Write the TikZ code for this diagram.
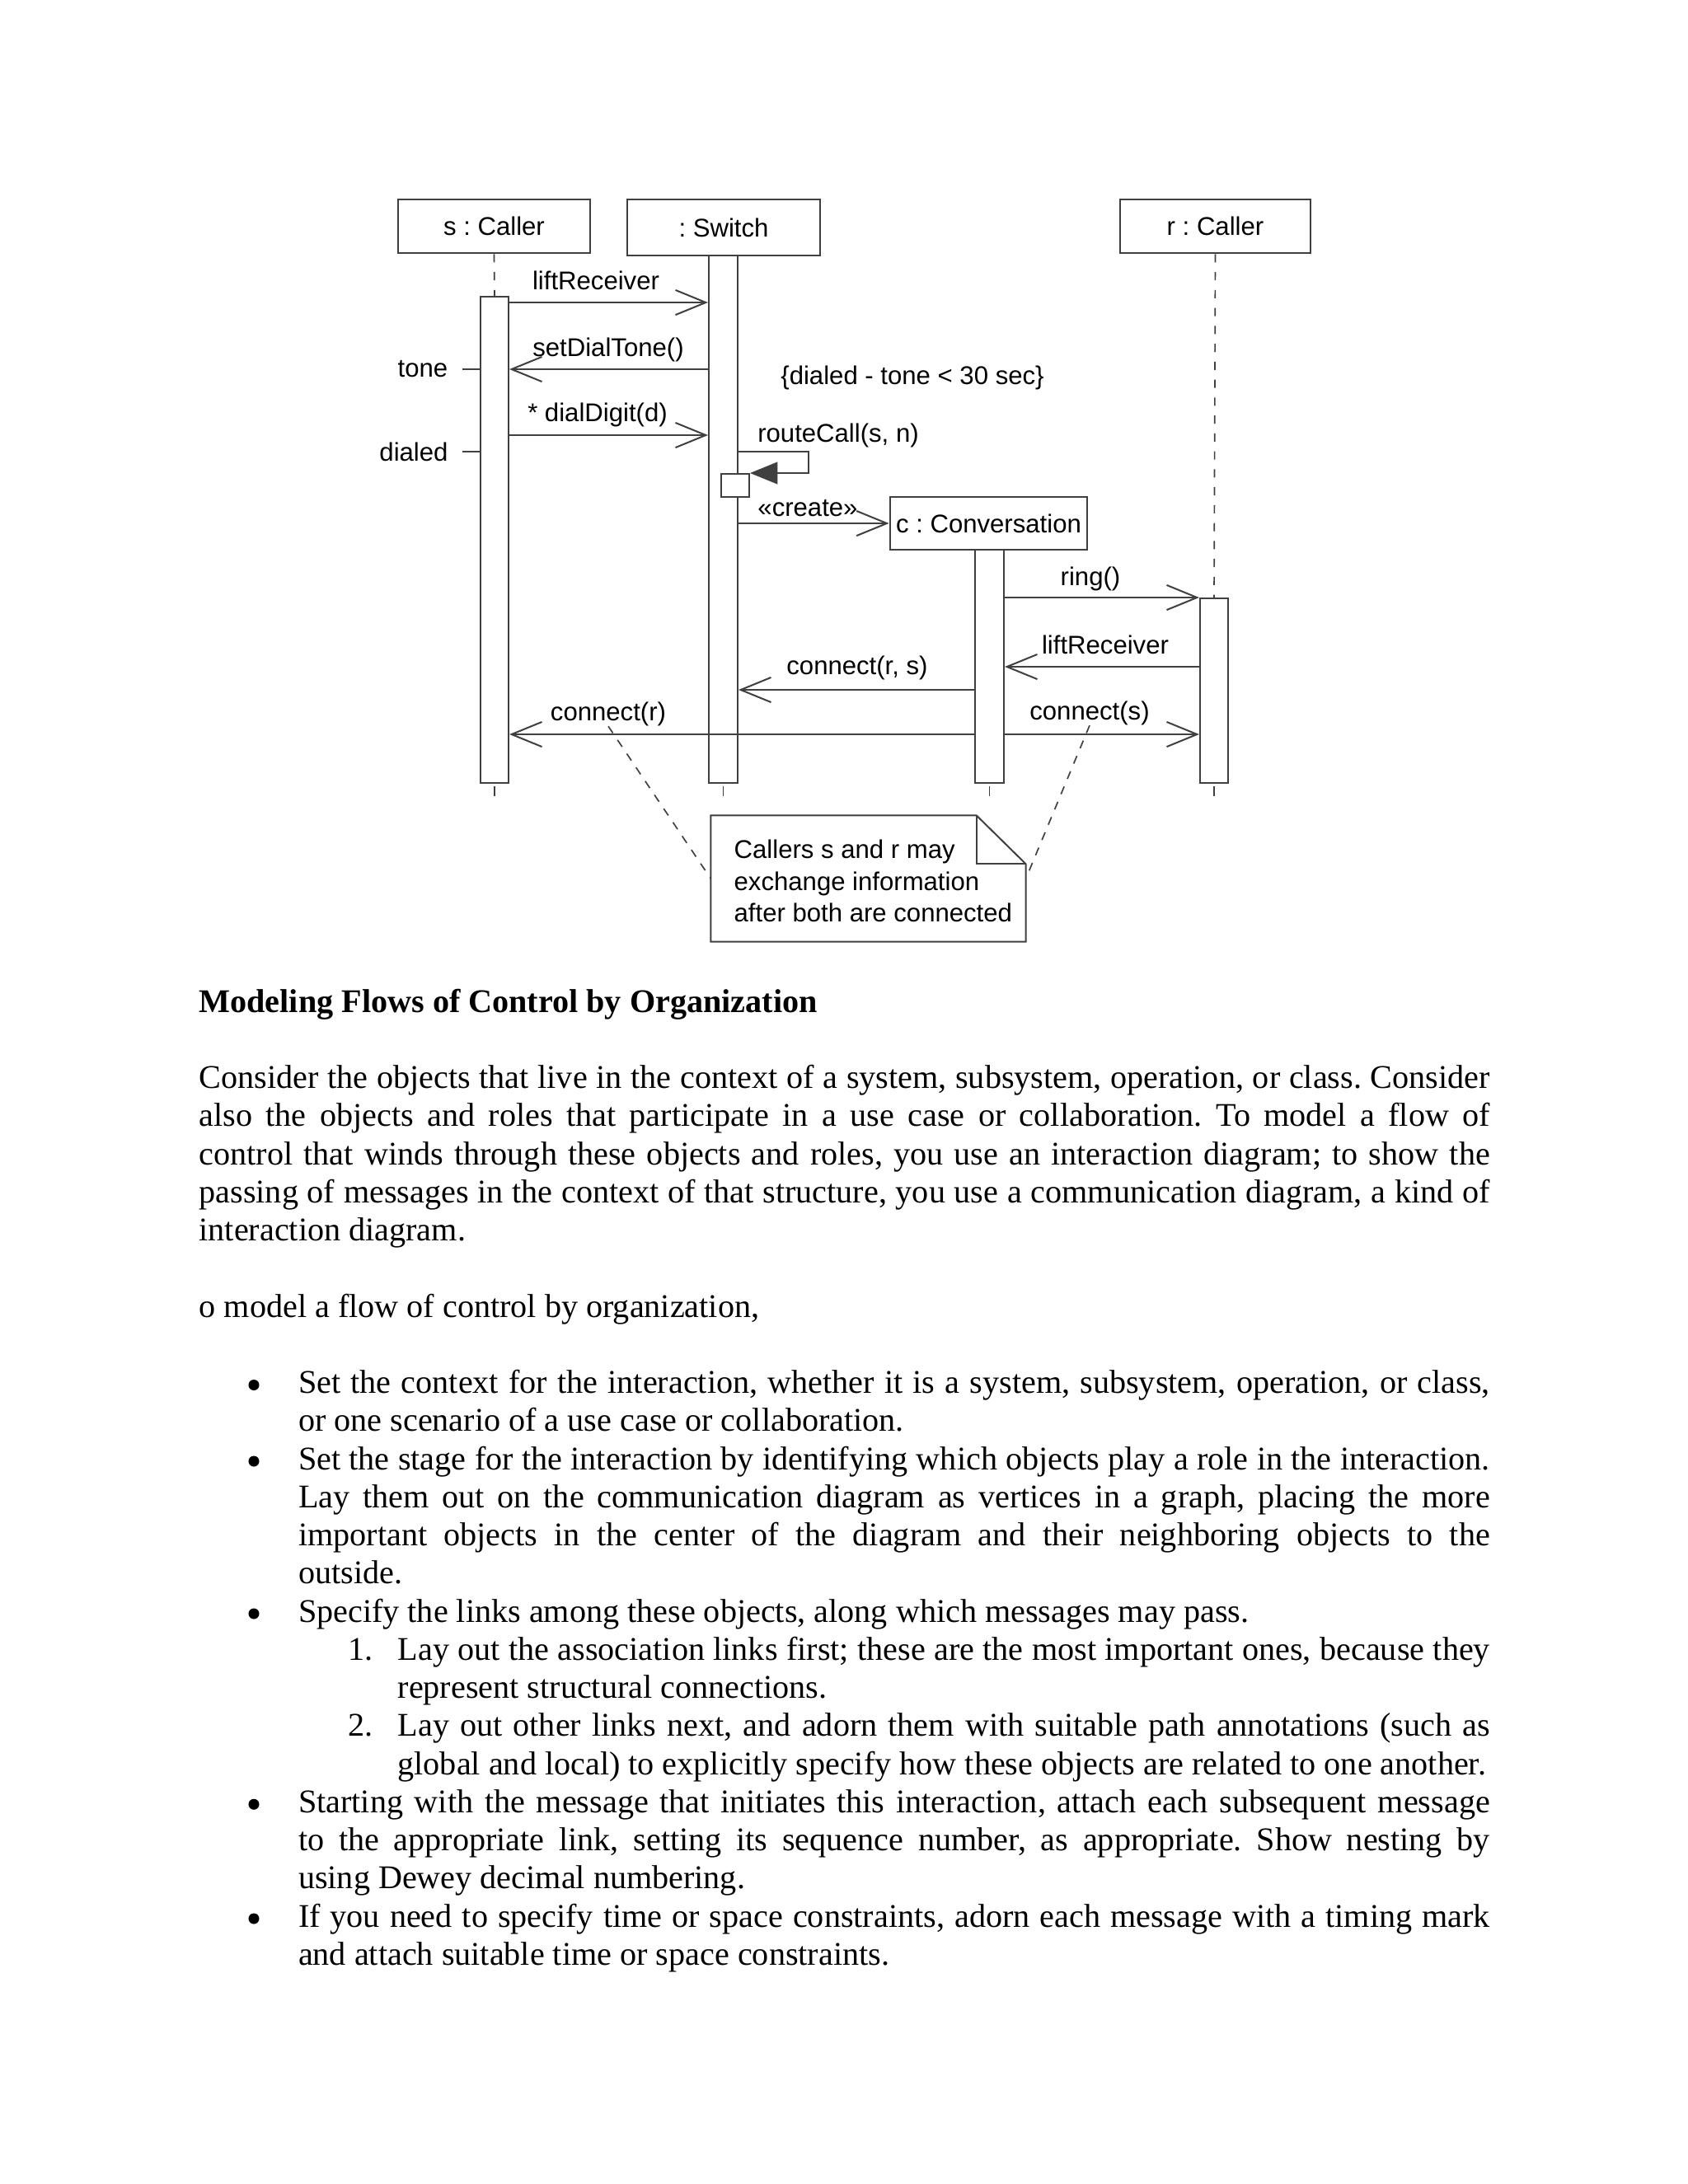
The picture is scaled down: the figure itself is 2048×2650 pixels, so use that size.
\documentclass[tikz,border=0pt]{standalone}
\usepackage{fontspec}
\setmainfont{Liberation Serif}
\newfontfamily\diagfont{Liberation Sans}
\usetikzlibrary{arrows.meta,fit,calc}
\frenchspacing
\newcommand\jline[4]{\node[body] (#1) at (#2) {\makebox[#3][s]{#4}};}
\newcommand\lline[3]{\node[body] (#1) at (#2) {#3};}
\newcommand\bul[2]{\node[circle, fill=black, inner sep=0pt, minimum size=3.9pt] (#1) at (#2) {};}
\begin{document}
\begin{tikzpicture}[x=0.29883pt,y=-0.29883pt,
  dline/.style={draw=black!75, line width=0.6pt},
  objbox/.style={draw=black!75, line width=0.8pt, fill=white, inner sep=0pt},
  actbox/.style={draw=black!75, line width=0.6pt, fill=white, inner sep=0pt},
  msg/.style={draw=black!75, line width=0.6pt, -{Straight Barb[length=11pt,width=9pt]}},
  lbl/.style={font=\diagfont\fontsize{9.3}{11.1}\selectfont, inner sep=0pt},
  lifeline/.style={draw=black!75, line width=0.5pt, dash pattern=on 3pt off 3.5pt},
  notelink/.style={draw=black!75, line width=0.5pt, dash pattern=on 3pt off 3pt},
  body/.style={anchor=base west, inner sep=0pt, font=\fontsize{12}{13.8}\selectfont},
]
\fill[white] (0,0) rectangle (2048,2650);
\useasboundingbox (0,0) rectangle (2048,2650);

% object boxes
\node[objbox, fit={(483,242)(716,307)}] (s) {};
\node[lbl] (st) at (s.center) {s : Caller};
\node[objbox, fit={(761,242)(995,310)}] (sw) {};
\node[lbl] (swt) at (sw.center) {: Switch};
\node[objbox, fit={(1359,242)(1590,307)}] (r) {};
\node[lbl] (rt) at (r.center) {r : Caller};

% lifelines
\draw[lifeline] (s.south) -- (600,360);
\draw[lifeline] (r.south) -- (1473,726);

% activations
\node[actbox, fit={(583,360)(617,950)}] (sa) {};
\node[actbox, fit={(860,310)(895,950)}] (swa) {};
\node[objbox, fit={(1080,603)(1319,667)}] (c) {};
\node[lbl] (ct) at (c.center) {c : Conversation};
\node[actbox, fit={(1183,667)(1218,950)}] (ca) {};
\node[actbox, fit={(1456,726)(1490,950)}] (ra) {};
\node[actbox, fit={(875,575)(909,603)}] (nest) {};

% ticks below activations
\foreach \a in {sa,swa,ca,ra}{
  \draw[dline, line width=0.5pt] (\a.south) ++(0,3) -- ++(0,12);
}

% messages
\draw[msg] (sa.east |- 0,367) -- (swa.west |- 0,367);
\draw[msg] (swa.west |- 0,448) -- (sa.east |- 0,448);
\draw[msg] (sa.east |- 0,528) -- (swa.west |- 0,528);
\draw[dline, -{Triangle[length=10pt,width=8pt]}] (swa.east |- 0,548) -- ++(85,0) |- (nest.north east);
\draw[msg] (swa.east |- c.west) -- (c.west);
\draw[msg] (ca.east |- ra.north) -- (ra.north west);
\draw[msg] (ra.west |- 0,809) -- (ca.east |- 0,809);
\draw[msg] (ca.west |- 0,837) -- (swa.east |- 0,837);
\draw[msg] (ca.west |- 0,891) -- (sa.east |- 0,891);
\draw[msg] (ca.east |- 0,891) -- (ra.west |- 0,891);

% labels
\node[lbl] (l1) at (723,340) {liftReceiver};
\node[lbl] (l2) at (738,424) {setDialTone()};
\node[lbl] (l3) at (725,503) {* dialDigit(d)};
\node[lbl] (l4) at (1017,528) {routeCall(s, n)};
\node[lbl] (l5) at (1107,458) {\{dialed - tone < 30 sec\}};
\node[lbl] (l6) at (980,617) {«create»};
\node[lbl] (l7) at (1323,702) {ring()};
\node[lbl] (l8) at (1341,782) {liftReceiver};
\node[lbl] (l9) at (1040,810) {connect(r, s)};
\node[lbl] (cr) at (738,866) {connect(r)};
\node[lbl] (cs) at (1322,865) {connect(s)};

\node[lbl] (tone) at (513,448) {tone};
\draw[dline] ([xshift=5pt]tone.east) -- (sa.west |- tone.east);
\node[lbl] (dialed) at (502,548) {dialed};
\draw[dline] ([xshift=5pt]dialed.east) -- (sa.west |- dialed.east);

% note
\node[inner sep=0pt, fit={(863,990)(1244,1142)}] (note) {};
\draw[dline, fill=white] (note.north west) -- ($(note.north east)+(-60,0)$) -- ($(note.north east)+(0,59)$) -- (note.south east) -- (note.south west) -- cycle;
\draw[dline] ($(note.north east)+(-60,0)$) -- ($(note.north east)+(-60,59)$) -- ($(note.north east)+(0,59)$);
\node[lbl, anchor=west, align=left, font=\diagfont\fontsize{9.3}{11.4}\selectfont] (nt) at (890,1069) {Callers s and r may\\exchange information\\after both are connected};
\draw[notelink] (cr.south) -- (note.west);
\draw[notelink] (cs.south) -- (note.east);

% body text
\node[body, font=\fontsize{12}{13.8}\selectfont\bfseries] (head) at (241,1228) {Modeling Flows of Control by Organization};
\jline{p1}{241,{1228+46.25*2}}{468pt}{Consider the objects that live in the context of a system, subsystem, operation, or class. Consider}
\jline{p2}{241,{1228+46.25*3}}{468pt}{also the objects and roles that participate in a use case or collaboration. To model a flow of}
\jline{p3}{241,{1228+46.25*4}}{468pt}{control that winds through these objects and roles, you use an interaction diagram; to show the}
\jline{p4}{241,{1228+46.25*5}}{468pt}{passing of messages in the context of that structure, you use a communication diagram, a kind of}
\lline{p5}{241,{1228+46.25*6}}{interaction diagram.}
\lline{p6}{241,{1228+46.25*8}}{o model a flow of control by organization,}

\bul{b1}{308,{1228+46.25*10-10}}
\jline{b1a}{361.4,{1228+46.25*10}}{432pt}{Set the context for the interaction, whether it is a system, subsystem, operation, or class,}
\lline{b1b}{361.4,{1228+46.25*11}}{or one scenario of a use case or collaboration.}
\bul{b2}{308,{1228+46.25*12-10}}
\jline{b2a}{361.4,{1228+46.25*12}}{432pt}{Set the stage for the interaction by identifying which objects play a role in the interaction.}
\jline{b2b}{361.4,{1228+46.25*13}}{432pt}{Lay them out on the communication diagram as vertices in a graph, placing the more}
\jline{b2c}{361.4,{1228+46.25*14}}{432pt}{important objects in the center of the diagram and their neighboring objects to the}
\lline{b2d}{361.4,{1228+46.25*15}}{outside.}
\bul{b3}{308,{1228+46.25*16-10}}
\lline{b3a}{361.4,{1228+46.25*16}}{Specify the links among these objects, along which messages may pass.}
\lline{e1}{422,{1228+46.25*17}}{1.}
\jline{e1a}{482,{1228+46.25*17}}{396pt}{Lay out the association links first; these are the most important ones, because they}
\lline{e1b}{482,{1228+46.25*18}}{represent structural connections.}
\lline{e2}{422,{1228+46.25*19}}{2.}
\jline{e2a}{482,{1228+46.25*19}}{396pt}{Lay out other links next, and adorn them with suitable path annotations (such as}
\lline{e2b}{482,{1228+46.25*20}}{global and local) to explicitly specify how these objects are related to one another.}
\bul{b4}{308,{1228+46.25*21-10}}
\jline{b4a}{361.4,{1228+46.25*21}}{432pt}{Starting with the message that initiates this interaction, attach each subsequent message}
\jline{b4b}{361.4,{1228+46.25*22}}{432pt}{to the appropriate link, setting its sequence number, as appropriate. Show nesting by}
\lline{b4c}{361.4,{1228+46.25*23}}{using Dewey decimal numbering.}
\bul{b5}{308,{1228+46.25*24-10}}
\jline{b5a}{361.4,{1228+46.25*24}}{432pt}{If you need to specify time or space constraints, adorn each message with a timing mark}
\lline{b5b}{361.4,{1228+46.25*25}}{and attach suitable time or space constraints.}
\end{tikzpicture}
\end{document}
